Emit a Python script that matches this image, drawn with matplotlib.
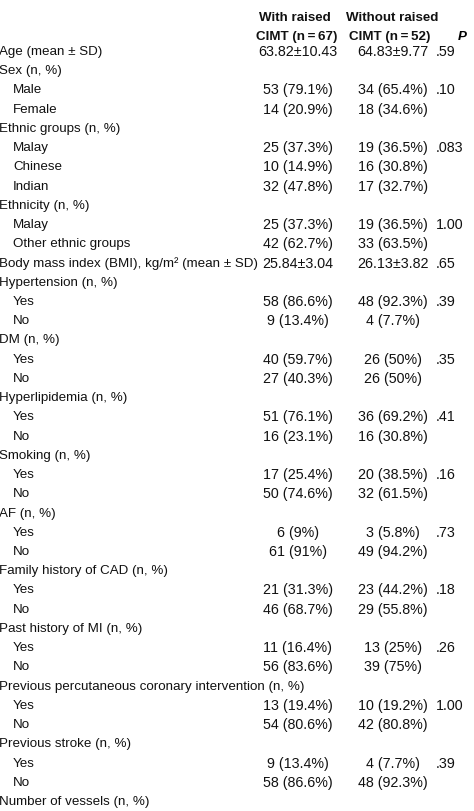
import matplotlib
matplotlib.use("Agg")
import matplotlib.pyplot as plt

labels = ["Age (mean \u00b1 SD)", "Sex (n, %)", "Male", "Female", "Ethnic groups (n, %)", "Malay", "Chinese", "Indian",
          "Ethnicity (n, %)", "Malay", "Other ethnic groups", "Body mass index (BMI), kg/m\u00b2 (mean \u00b1 SD)",
          "Hypertension (n, %)", "Yes", "No", "DM (n, %)", "Yes", "No", "Hyperlipidemia (n, %)", "Yes", "No",
          "Smoking (n, %)", "Yes", "No", "AF (n, %)", "Yes", "No", "Family history of CAD (n, %)", "Yes", "No",
          "Past history of MI (n, %)", "Yes", "No", "Previous percutaneous coronary intervention (n, %)", "Yes", "No",
          "Previous stroke (n, %)", "Yes", "No", "Number of vessels (n, %)"]
indent = [0,0,1,1,0,1,1,1,0,1,1,0,0,1,1,0,1,1,0,1,1,0,1,1,0,1,1,0,1,1,0,1,1,0,1,1,0,1,1,0]
with_cimt = ["63.82\u00b110.43", "", "53 (79.1%)", "14 (20.9%)", "", "25 (37.3%)", "10 (14.9%)", "32 (47.8%)",
             "", "25 (37.3%)", "42 (62.7%)", "25.84\u00b13.04", "", "58 (86.6%)", "9 (13.4%)", "", "40 (59.7%)",
             "27 (40.3%)", "", "51 (76.1%)", "16 (23.1%)", "", "17 (25.4%)", "50 (74.6%)", "", "6 (9%)", "61 (91%)",
             "", "21 (31.3%)", "46 (68.7%)", "", "11 (16.4%)", "56 (83.6%)", "", "13 (19.4%)", "54 (80.6%)", "",
             "9 (13.4%)", "58 (86.6%)", ""]
without_cimt = ["64.83\u00b19.77", "", "34 (65.4%)", "18 (34.6%)", "", "19 (36.5%)", "16 (30.8%)", "17 (32.7%)",
                "", "19 (36.5%)", "33 (63.5%)", "26.13\u00b13.82", "", "48 (92.3%)", "4 (7.7%)", "", "26 (50%)",
                "26 (50%)", "", "36 (69.2%)", "16 (30.8%)", "", "20 (38.5%)", "32 (61.5%)", "", "3 (5.8%)",
                "49 (94.2%)", "", "23 (44.2%)", "29 (55.8%)", "", "13 (25%)", "39 (75%)", "", "10 (19.2%)",
                "42 (80.8%)", "", "4 (7.7%)", "48 (92.3%)", ""]
p_vals = [".59", "", ".10", "", "", ".083", "", "", "", "1.00", "", ".65", "", ".39", "", "", ".35", "", "",
          ".41", "", "", ".16", "", "", ".73", "", "", ".18", "", "", ".26", "", "", "1.00", "", "", ".39", "", ""]

W, H = 474, 812
fig = plt.figure(figsize=(W/100, H/100), dpi=100)
ax = fig.add_axes([0, 0, 1, 1])
ax.set_xlim(0, W); ax.set_ylim(H, 0); ax.axis("off")
fam = ["Liberation Sans Narrow", "Liberation Sans", "DejaVu Sans"]
fs = 10.3
hk = dict(fontsize=9.6, family=fam, fontweight="bold", va="center", ha="center", color="#111111")
ax.text(295, 18, "With raised", **hk); ax.text(297, 37, "CIMT (n\u2009=\u200967)", **hk)
ax.text(392, 18, "Without raised", **hk); ax.text(390, 37, "CIMT (n\u2009=\u200952)", **hk)
ax.text(462, 37, "P", fontsize=9.6, family=fam, fontweight="bold", style="italic", va="center", ha="center")
y0, step = 52, 19.23
tk = dict(va="center", family=fam, color="#111111")
for i, lab in enumerate(labels):
    y = y0 + i*step
    ax.text(-1 + 14*indent[i], y, lab, ha="left", fontsize=9.6, **tk)
    ax.text(298, y, with_cimt[i], ha="center", fontsize=fs, **tk)
    ax.text(393, y, without_cimt[i], ha="center", fontsize=fs, **tk)
    ax.text(436, y, p_vals[i], ha="left", fontsize=fs, **tk)
fig.savefig("out.png", dpi=100)
